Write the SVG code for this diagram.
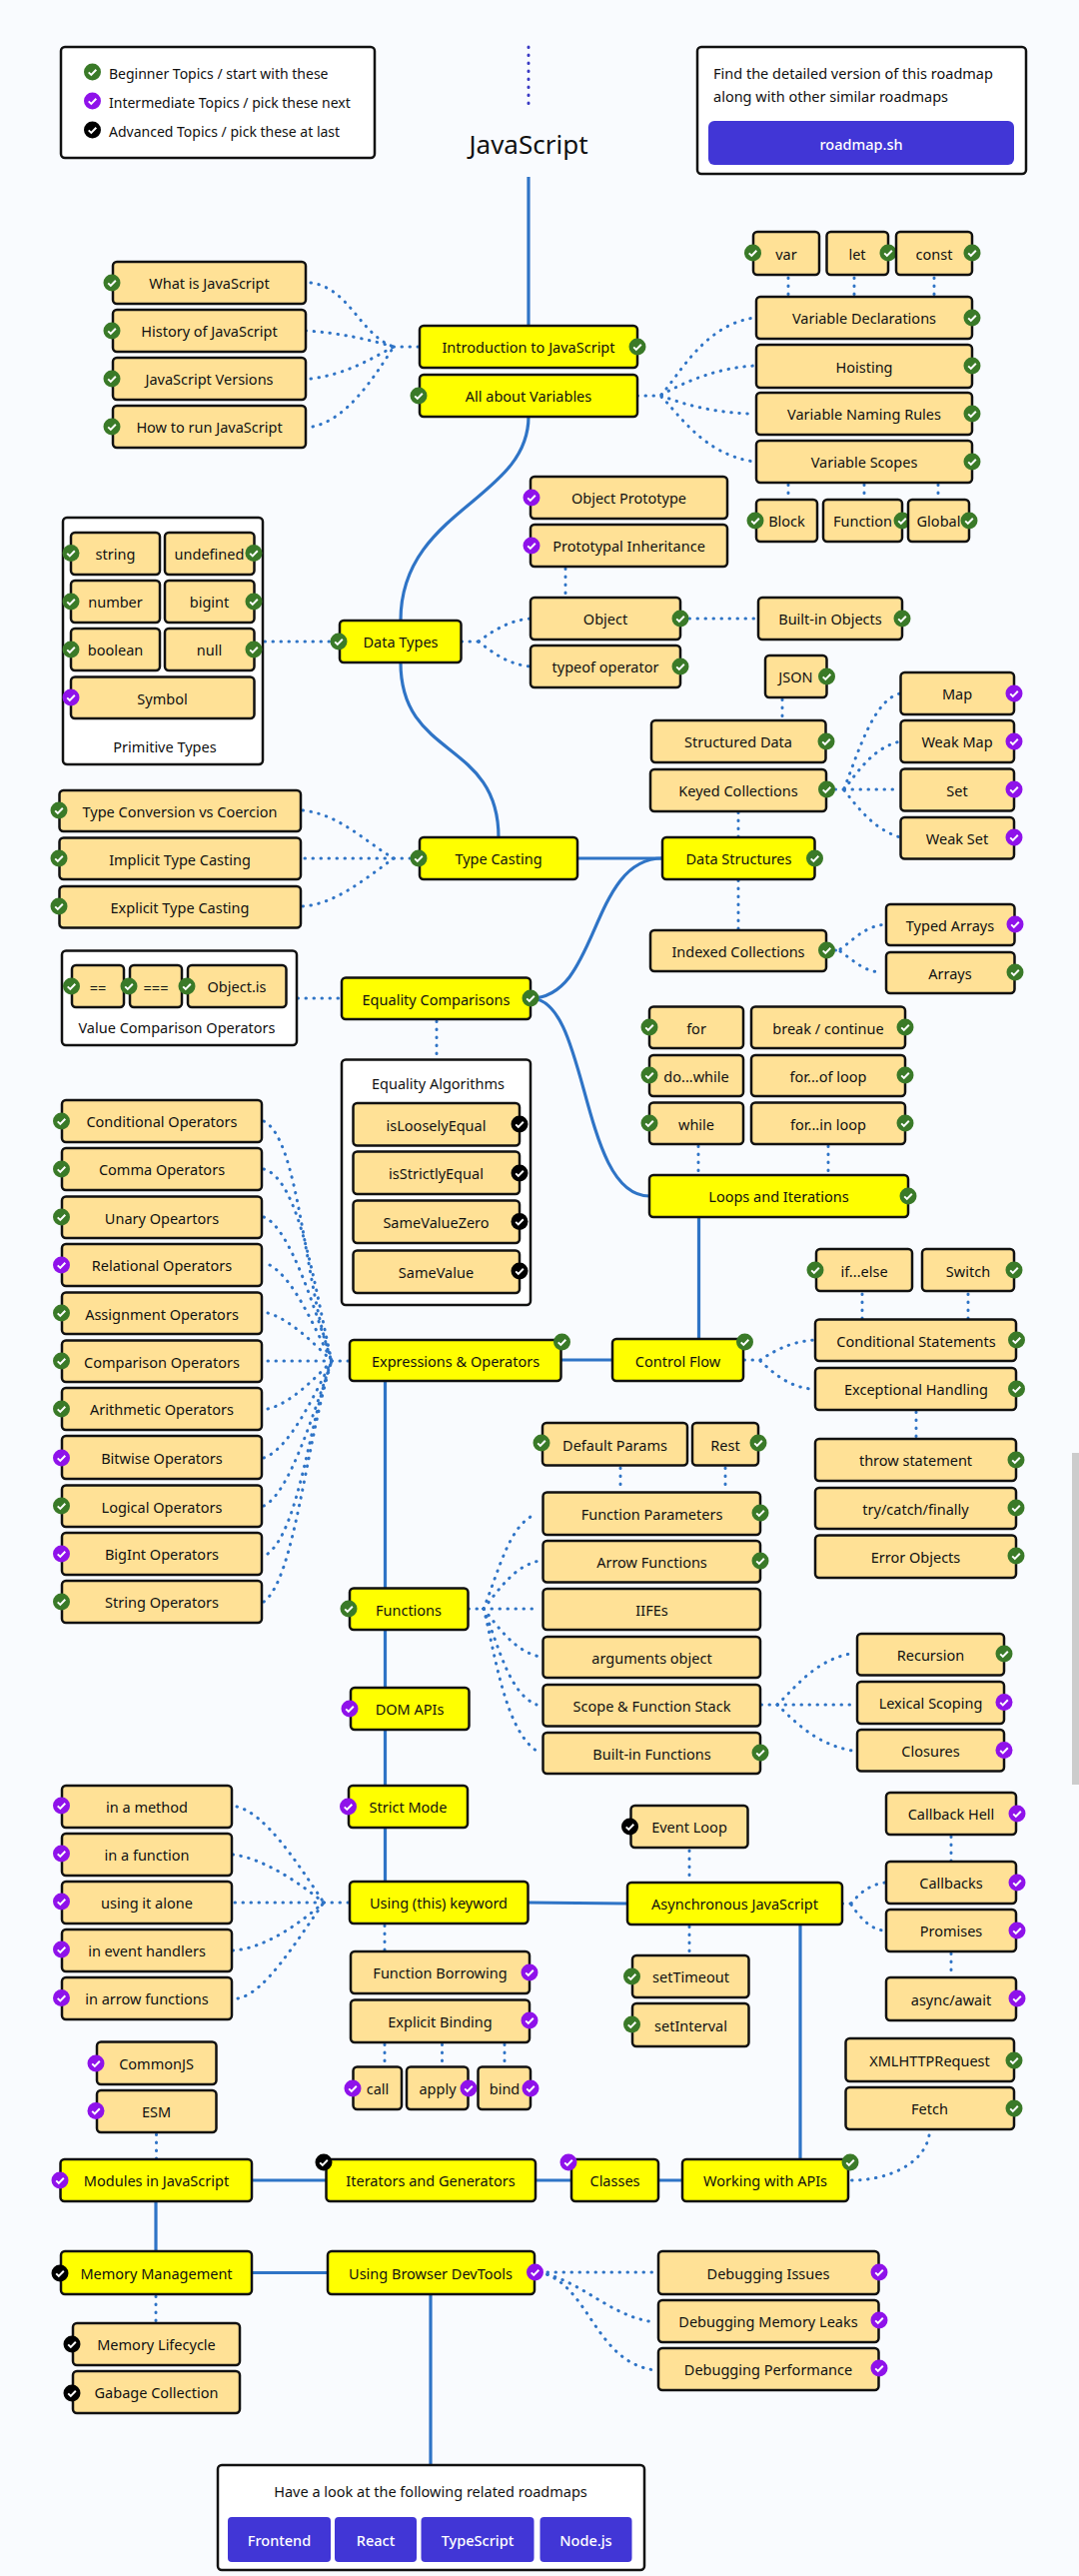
<svg xmlns="http://www.w3.org/2000/svg" width="1080" height="2578" viewBox="0 0 1080 2578">
<style>
text{font-family:"Noto Sans","Liberation Sans",sans-serif;font-size:14.5px;fill:#111;text-anchor:middle;dominant-baseline:central}
.s rect{fill:#ffe196;stroke:#111;stroke-width:2.5}
.p rect{fill:#ff0;stroke:#111;stroke-width:2.5}
.c>rect{fill:#fff;stroke:#111;stroke-width:2.5}
.b rect{fill:#4136d6;stroke:none}
.b text{fill:#fff;font-weight:500}
.lf text{text-anchor:start}
#legend text{font-size:14px}
#solid path{fill:none;stroke:#2f74c6;stroke-width:3.2}
#dots path{fill:none;stroke:#2f74c6;stroke-width:3;stroke-linecap:round;stroke-dasharray:0.5 7.5}
#dots path.top{stroke:#3a3ac4}
</style>
<defs>
<path id="k" d="M-3.8 .4L-1.2 2.9L3.8-2.2" fill="none" stroke="#fff" stroke-width="2"/>
<g id="g"><circle r="8.5" fill="#3a7a28"/><use href="#k"/></g>
<g id="v"><circle r="8.5" fill="#8f12ea"/><use href="#k"/></g>
<g id="a"><circle r="8.5" fill="#000"/><use href="#k"/></g>
</defs>
<rect width="1080" height="2578" fill="#f9fbfe"/>
<rect id="scrollbar" x="1073" y="1454" width="7" height="332" fill="#ccc"/>
<g id="solid">
<path d="M529 177V326"/>
<path d="M529 417C529 500 401 510 401 621"/>
<path d="M401 663C401 760 499 740 499 838"/>
<path d="M578 859H663"/>
<path d="M531 999C600 999 590 859 663 859"/>
<path d="M531 999C590 999 580 1197 650 1197"/>
<path d="M699.500 1218V1340"/>
<path d="M613 1361H562"/>
<path d="M385.500 1382V1883"/>
<path d="M528 1904L628 1905"/>
<path d="M801 1926V2161"/>
<path d="M683 2182H252"/>
<path d="M156 2203V2253"/>
<path d="M252 2274.500H328"/>
<path d="M431 2296V2467"/>
</g>
<g id="dots">
<path class="top" d="M529 47V108"/>
<path d="M394 347H420"/>
<path d="M311 283C350 288 360 335 394 347"/>
<path d="M306 331C340 333 370 340 394 347"/>
<path d="M311 379C345 375 370 360 394 347"/>
<path d="M313 427C345 420 370 385 394 347"/>
<path d="M638 396H662"/>
<path d="M662 395C680 375 705 325 755 318"/>
<path d="M662 395C690 380 720 368 755 366"/>
<path d="M662 396C690 407 720 413 750 414"/>
<path d="M662 397C680 415 705 455 755 462"/>
<path d="M789 278V297"/>
<path d="M855 278V297"/>
<path d="M935 278V297"/>
<path d="M789 485V500"/>
<path d="M865 485V500"/>
<path d="M939 485V500"/>
<path d="M265 642H335"/>
<path d="M462 642H479"/>
<path d="M479 642C495 630 510 621 531 619"/>
<path d="M479 642C495 655 510 665 531 667"/>
<path d="M690 619H757"/>
<path d="M566 569V598"/>
<path d="M783 700V720"/>
<path d="M739 813V838"/>
<path d="M739 881V931"/>
<path d="M836 790H845"/>
<path d="M845 789C860 750 875 700 901 694"/>
<path d="M845 790C860 770 875 748 901 742"/>
<path d="M845 790H901"/>
<path d="M845 791C860 810 875 830 901 838"/>
<path d="M836 951H841"/>
<path d="M841 950C855 940 865 927 887 925"/>
<path d="M841 952C855 962 865 972 881 973"/>
<path d="M699 1147V1176"/>
<path d="M829 1147V1176"/>
<path d="M437 1022V1060"/>
<path d="M298 999H342"/>
<path d="M394 859H419"/>
<path d="M303 811C340 815 365 842 394 859"/>
<path d="M305 859H394"/>
<path d="M303 907C335 905 365 880 394 859"/>
<path d="M332 1362H350"/>
<path d="M264 1122C300 1140 305 1290 332 1362"/>
<path d="M264 1170C300 1180 315 1290 332 1362"/>
<path d="M264 1218C290 1228 315 1310 332 1362"/>
<path d="M270 1266C295 1280 315 1330 332 1362"/>
<path d="M268 1314C290 1320 315 1345 332 1362"/>
<path d="M268 1362H332"/>
<path d="M268 1410C290 1405 315 1380 332 1362"/>
<path d="M264 1459C290 1450 315 1395 332 1362"/>
<path d="M264 1507C290 1495 315 1410 332 1362"/>
<path d="M268 1555C300 1530 310 1420 332 1362"/>
<path d="M264 1603C295 1580 305 1450 332 1362"/>
<path d="M469 1610H484"/>
<path d="M484 1610C500 1570 510 1525 537 1515"/>
<path d="M484 1610C500 1590 515 1567 540 1562"/>
<path d="M484 1610H540"/>
<path d="M484 1610C500 1630 515 1652 540 1658"/>
<path d="M484 1610C500 1650 510 1695 537 1706"/>
<path d="M484 1610C495 1650 505 1735 540 1754"/>
<path d="M621 1469V1493"/>
<path d="M726 1469V1493"/>
<path d="M762 1706H778"/>
<path d="M778 1706C795 1690 815 1662 851 1655"/>
<path d="M778 1706H852"/>
<path d="M778 1706C795 1722 815 1745 853 1752"/>
<path d="M863 1295V1320"/>
<path d="M969 1295V1320"/>
<path d="M917 1413V1440"/>
<path d="M745 1361H761"/>
<path d="M761 1361C775 1352 790 1343 815 1341"/>
<path d="M761 1362C775 1375 790 1388 812 1390"/>
<path d="M843 1905H852"/>
<path d="M852 1905C860 1895 870 1886 886 1884"/>
<path d="M852 1906C860 1918 870 1930 884 1932"/>
<path d="M952 1838V1863"/>
<path d="M952 1955V1979"/>
<path d="M690 1852V1884"/>
<path d="M690 1928V1957"/>
<path d="M930 2137C925 2165 890 2182 852 2182"/>
<path d="M324 1904H350"/>
<path d="M237 1808C265 1815 295 1860 324 1904"/>
<path d="M233 1856C265 1860 300 1885 324 1904"/>
<path d="M235 1904H324"/>
<path d="M233 1952C265 1950 300 1925 324 1904"/>
<path d="M238 2000C265 1995 295 1945 324 1904"/>
<path d="M385 1927V1953"/>
<path d="M385 2046V2068"/>
<path d="M442.500 2046V2068"/>
<path d="M505 2046V2068"/>
<path d="M156.500 2136V2161"/>
<path d="M156 2298V2325"/>
<path d="M540 2274H657"/>
<path d="M540 2274C585 2284 610 2318 655 2324"/>
<path d="M540 2274C590 2285 595 2365 656 2372"/>
</g>
<g id="legend" class="c lf"><rect x="61" y="47" width="314" height="111" rx="4"/>
<use href="#g" x="92.500" y="72"/><text x="109" y="73">Beginner Topics / start with these</text>
<use href="#v" x="92.500" y="101"/><text x="109" y="102">Intermediate Topics / pick these next</text>
<use href="#a" x="92.500" y="130"/><text x="109" y="131">Advanced Topics / pick these at last</text></g>
<text id="title" x="529" y="144" style="font-size:26px">JavaScript</text>
<g id="promo" class="c lf"><rect x="698" y="47" width="329" height="127" rx="4"/>
<text x="714" y="73">Find the detailed version of this roadmap</text>
<text x="714" y="96">along with other similar roadmaps</text></g>
<g id="promo-btn" class="b"><rect x="709" y="121" width="306" height="44" rx="6"/><text x="862" y="144">roadmap.sh</text></g>
<g id="card-primitive" class="c"><rect x="63" y="518" width="200" height="247" rx="4"/><text x="165" y="747">Primitive Types</text></g>
<g id="card-value" class="c"><rect x="62" y="951.500" width="235" height="94.500" rx="4"/><text x="177" y="1027.500">Value Comparison Operators</text></g>
<g id="card-equality" class="c"><rect x="342" y="1060.500" width="189" height="245.500" rx="4"/><text x="438.500" y="1084">Equality Algorithms</text></g>
<g id="card-related" class="c"><rect x="218" y="2467" width="427" height="105" rx="4"/><text x="431" y="2493">Have a look at the following related roadmaps</text></g>
<g id="rel-frontend" class="b"><rect x="228" y="2519" width="103" height="45" rx="4"/><text x="279.500" y="2542">Frontend</text></g>
<g id="rel-react" class="b"><rect x="335" y="2519" width="82" height="45" rx="4"/><text x="376" y="2542">React</text></g>
<g id="rel-ts" class="b"><rect x="421.500" y="2519" width="113" height="45" rx="4"/><text x="478" y="2542">TypeScript</text></g>
<g id="rel-node" class="b"><rect x="540.500" y="2519" width="92" height="45" rx="4"/><text x="586.500" y="2542">Node.js</text></g>

<g id="what-is" class="s"><rect x="113" y="262" width="193" height="42" rx="4"/><text x="209.500" y="283">What is JavaScript</text><use href="#g" x="112" y="283"/></g>
<g id="history" class="s"><rect x="113" y="310" width="193" height="42" rx="4"/><text x="209.500" y="331">History of JavaScript</text><use href="#g" x="112" y="331"/></g>
<g id="versions" class="s"><rect x="113" y="358" width="193" height="42" rx="4"/><text x="209.500" y="379">JavaScript Versions</text><use href="#g" x="112" y="379"/></g>
<g id="how-to-run" class="s"><rect x="113" y="406" width="193" height="42" rx="4"/><text x="209.500" y="427">How to run JavaScript</text><use href="#g" x="112" y="427"/></g>
<g id="intro" class="p"><rect x="420" y="326" width="218" height="42" rx="4"/><text x="529" y="347">Introduction to JavaScript</text><use href="#g" x="638" y="347"/></g>
<g id="variables" class="p"><rect x="420" y="375" width="218" height="42" rx="4"/><text x="529" y="396">All about Variables</text><use href="#g" x="419" y="396"/></g>
<g id="var" class="s"><rect x="754" y="232" width="66" height="43" rx="4"/><text x="787" y="253.500">var</text><use href="#g" x="753.500" y="253"/></g>
<g id="let" class="s"><rect x="827.500" y="232" width="61.500" height="43" rx="4"/><text x="858" y="253.500">let</text><use href="#g" x="889" y="253"/></g>
<g id="const" class="s"><rect x="897" y="232" width="76" height="43" rx="4"/><text x="935" y="253.500">const</text><use href="#g" x="973" y="253"/></g>
<g id="var-decl" class="s"><rect x="757" y="297" width="216" height="42" rx="4"/><text x="865" y="318">Variable Declarations</text><use href="#g" x="973" y="318"/></g>
<g id="hoisting" class="s"><rect x="757" y="345" width="216" height="43" rx="4"/><text x="865" y="366.500">Hoisting</text><use href="#g" x="973" y="366"/></g>
<g id="naming" class="s"><rect x="757" y="393" width="216" height="42" rx="4"/><text x="865" y="414">Variable Naming Rules</text><use href="#g" x="973" y="414"/></g>
<g id="scopes" class="s"><rect x="757" y="441" width="216" height="42" rx="4"/><text x="865" y="462">Variable Scopes</text><use href="#g" x="973" y="462"/></g>
<g id="block" class="s"><rect x="757" y="500" width="61" height="42" rx="4"/><text x="787.500" y="521">Block</text><use href="#g" x="756" y="521"/></g>
<g id="function-scope" class="s"><rect x="824" y="500" width="79" height="42" rx="4"/><text x="863.500" y="521">Function</text><use href="#g" x="903" y="521"/></g>
<g id="global" class="s"><rect x="909" y="500" width="61" height="42" rx="4"/><text x="939.500" y="521">Global</text><use href="#g" x="970" y="521"/></g>
<g id="obj-proto" class="s"><rect x="531" y="477" width="197" height="42" rx="4"/><text x="629.500" y="498">Object Prototype</text><use href="#v" x="532" y="498"/></g>
<g id="proto-inherit" class="s"><rect x="531" y="525" width="197" height="42" rx="4"/><text x="629.500" y="546">Prototypal Inheritance</text><use href="#v" x="532" y="546"/></g>
<g id="object" class="s"><rect x="531" y="598" width="150" height="42" rx="4"/><text x="606" y="619">Object</text><use href="#g" x="681" y="619"/></g>
<g id="typeof" class="s"><rect x="531" y="646" width="150" height="42" rx="4"/><text x="606" y="667">typeof operator</text><use href="#g" x="681" y="667"/></g>
<g id="builtin-objects" class="s"><rect x="759" y="598" width="144" height="42" rx="4"/><text x="831" y="619">Built-in Objects</text><use href="#g" x="903" y="619"/></g>
<g id="json" class="s"><rect x="766" y="656" width="61.500" height="42" rx="4"/><text x="796.500" y="677">JSON</text><use href="#g" x="827.500" y="677"/></g>
<g id="structured" class="s"><rect x="652" y="721" width="174.500" height="42" rx="4"/><text x="739" y="742">Structured Data</text><use href="#g" x="827" y="742"/></g>
<g id="keyed" class="s"><rect x="651" y="770" width="176" height="42" rx="4"/><text x="739" y="791">Keyed Collections</text><use href="#g" x="827.500" y="790"/></g>
<g id="data-structures" class="p"><rect x="663" y="838" width="152.500" height="42" rx="4"/><text x="739.500" y="859">Data Structures</text><use href="#g" x="815.500" y="859"/></g>
<g id="map" class="s"><rect x="901.500" y="673" width="113.500" height="42" rx="4"/><text x="958" y="694">Map</text><use href="#v" x="1015" y="694"/></g>
<g id="weak-map" class="s"><rect x="901.500" y="721" width="113.500" height="42" rx="4"/><text x="958" y="742">Weak Map</text><use href="#v" x="1015" y="742"/></g>
<g id="set" class="s"><rect x="901.500" y="769.500" width="113.500" height="42" rx="4"/><text x="958" y="790.500">Set</text><use href="#v" x="1015" y="790"/></g>
<g id="weak-set" class="s"><rect x="901.500" y="818" width="113.500" height="41.500" rx="4"/><text x="958" y="839">Weak Set</text><use href="#v" x="1015" y="838"/></g>
<g id="indexed" class="s"><rect x="651" y="931" width="176" height="41" rx="4"/><text x="739" y="951.500">Indexed Collections</text><use href="#g" x="827.500" y="951"/></g>
<g id="typed-arrays" class="s"><rect x="887" y="905" width="128.500" height="41" rx="4"/><text x="951" y="925.500">Typed Arrays</text><use href="#v" x="1016" y="925"/></g>
<g id="arrays" class="s"><rect x="887" y="953" width="128.500" height="41" rx="4"/><text x="951" y="973.500">Arrays</text><use href="#g" x="1016" y="973"/></g>
<g id="for" class="s"><rect x="650" y="1007.500" width="94" height="41.500" rx="4"/><text x="697" y="1028.500">for</text><use href="#g" x="650" y="1028"/></g>
<g id="break" class="s"><rect x="752" y="1007.500" width="154" height="41.500" rx="4"/><text x="829" y="1028.500">break / continue</text><use href="#g" x="906" y="1028"/></g>
<g id="do-while" class="s"><rect x="650" y="1056" width="94" height="41" rx="4"/><text x="697" y="1076.500">do...while</text><use href="#g" x="650" y="1076"/></g>
<g id="for-of" class="s"><rect x="752" y="1056" width="154" height="41" rx="4"/><text x="829" y="1076.500">for...of loop</text><use href="#g" x="906" y="1076"/></g>
<g id="while" class="s"><rect x="650" y="1103.500" width="94" height="41.500" rx="4"/><text x="697" y="1124.500">while</text><use href="#g" x="650" y="1124"/></g>
<g id="for-in" class="s"><rect x="752" y="1103.500" width="154" height="41.500" rx="4"/><text x="829" y="1124.500">for...in loop</text><use href="#g" x="906" y="1124"/></g>
<g id="loops" class="p"><rect x="650" y="1176" width="259" height="42" rx="4"/><text x="779.500" y="1197">Loops and Iterations</text><use href="#g" x="909" y="1197"/></g>
<g id="data-types" class="p"><rect x="340" y="621" width="121.500" height="42" rx="4"/><text x="401" y="642">Data Types</text><use href="#g" x="339" y="642"/></g>
<g id="string" class="s"><rect x="71" y="533" width="89" height="42" rx="4"/><text x="115.500" y="554">string</text><use href="#g" x="71" y="553.500"/></g>
<g id="undefined" class="s"><rect x="165" y="533" width="89.500" height="42" rx="4"/><text x="209.500" y="554">undefined</text><use href="#g" x="254" y="553.500"/></g>
<g id="number" class="s"><rect x="71" y="581" width="89" height="42" rx="4"/><text x="115.500" y="602">number</text><use href="#g" x="71" y="602"/></g>
<g id="bigint" class="s"><rect x="165" y="581" width="89.500" height="42" rx="4"/><text x="209.500" y="602">bigint</text><use href="#g" x="254" y="602"/></g>
<g id="boolean" class="s"><rect x="71" y="629" width="89" height="42" rx="4"/><text x="115.500" y="650">boolean</text><use href="#g" x="71" y="650"/></g>
<g id="null" class="s"><rect x="165" y="629" width="89.500" height="42" rx="4"/><text x="209.500" y="650">null</text><use href="#g" x="254" y="650"/></g>
<g id="symbol" class="s"><rect x="71" y="677.500" width="183.500" height="41.500" rx="4"/><text x="162.500" y="698.500">Symbol</text><use href="#v" x="71" y="698"/></g>
<g id="conversion" class="s"><rect x="59.500" y="791" width="241.500" height="41" rx="4"/><text x="180" y="811.500">Type Conversion vs Coercion</text><use href="#g" x="59" y="811"/></g>
<g id="implicit" class="s"><rect x="59.500" y="838.500" width="241.500" height="41.500" rx="4"/><text x="180" y="859.500">Implicit Type Casting</text><use href="#g" x="59" y="859"/></g>
<g id="explicit" class="s"><rect x="59.500" y="887" width="241.500" height="41.500" rx="4"/><text x="180" y="908">Explicit Type Casting</text><use href="#g" x="59" y="907"/></g>
<g id="type-casting" class="p"><rect x="420" y="838" width="158" height="42" rx="4"/><text x="499" y="859">Type Casting</text><use href="#g" x="419" y="859"/></g>
<g id="eq2" class="s"><rect x="72" y="966" width="52" height="42" rx="4"/><text x="98" y="988">==</text><use href="#g" x="71.500" y="987"/></g>
<g id="eq3" class="s"><rect x="130" y="966" width="52" height="42" rx="4"/><text x="156" y="988">===</text><use href="#g" x="129" y="987"/></g>
<g id="object-is" class="s"><rect x="188" y="966" width="98.500" height="42" rx="4"/><text x="237" y="987">Object.is</text><use href="#g" x="187" y="987"/></g>
<g id="equality" class="p"><rect x="342" y="978.500" width="189" height="41.500" rx="4"/><text x="436.500" y="999.500">Equality Comparisons</text><use href="#g" x="531" y="999"/></g>
<g id="loosely" class="s"><rect x="353.500" y="1104" width="166.500" height="42.500" rx="4"/><text x="436.500" y="1125.500">isLooselyEqual</text><use href="#a" x="520" y="1125"/></g>
<g id="strictly" class="s"><rect x="353.500" y="1152.500" width="166.500" height="42.500" rx="4"/><text x="436.500" y="1174">isStrictlyEqual</text><use href="#a" x="520" y="1174"/></g>
<g id="svz" class="s"><rect x="353.500" y="1201.500" width="166.500" height="42.500" rx="4"/><text x="436.500" y="1223">SameValueZero</text><use href="#a" x="520" y="1222.500"/></g>
<g id="sv" class="s"><rect x="353.500" y="1251.500" width="166.500" height="42.500" rx="4"/><text x="436.500" y="1273">SameValue</text><use href="#a" x="520" y="1272"/></g>
<g id="op-conditional" class="s"><rect x="62" y="1101" width="200" height="42" rx="4"/><text x="162" y="1122">Conditional Operators</text><use href="#g" x="61.500" y="1122"/></g>
<g id="op-comma" class="s"><rect x="62" y="1149" width="200" height="42" rx="4"/><text x="162" y="1170">Comma Operators</text><use href="#g" x="61.500" y="1170"/></g>
<g id="op-unary" class="s"><rect x="62" y="1197.500" width="200" height="41.500" rx="4"/><text x="162" y="1218.500">Unary Opeartors</text><use href="#g" x="61.500" y="1218"/></g>
<g id="op-relational" class="s"><rect x="62" y="1245" width="200" height="42" rx="4"/><text x="162" y="1266">Relational Operators</text><use href="#v" x="61.500" y="1266"/></g>
<g id="op-assignment" class="s"><rect x="62" y="1293.500" width="200" height="41.500" rx="4"/><text x="162" y="1314.500">Assignment Operators</text><use href="#g" x="61.500" y="1314"/></g>
<g id="op-comparison" class="s"><rect x="62" y="1341.500" width="200" height="41.500" rx="4"/><text x="162" y="1362.500">Comparison Operators</text><use href="#g" x="61.500" y="1362"/></g>
<g id="op-arithmetic" class="s"><rect x="62" y="1389" width="200" height="42" rx="4"/><text x="162" y="1410">Arithmetic Operators</text><use href="#g" x="61.500" y="1410"/></g>
<g id="op-bitwise" class="s"><rect x="62" y="1437" width="200" height="43" rx="4"/><text x="162" y="1459">Bitwise Operators</text><use href="#v" x="61.500" y="1459"/></g>
<g id="op-logical" class="s"><rect x="62" y="1486.500" width="200" height="41.500" rx="4"/><text x="162" y="1507.500">Logical Operators</text><use href="#g" x="61.500" y="1507"/></g>
<g id="op-bigint" class="s"><rect x="62" y="1534" width="200" height="42" rx="4"/><text x="162" y="1555">BigInt Operators</text><use href="#v" x="61.500" y="1555"/></g>
<g id="op-string" class="s"><rect x="62" y="1582" width="200" height="42" rx="4"/><text x="162" y="1603">String Operators</text><use href="#g" x="61.500" y="1603"/></g>
<g id="expressions" class="p"><rect x="350" y="1341" width="211.500" height="41" rx="4"/><text x="456" y="1362">Expressions &amp; Operators</text><use href="#g" x="562.500" y="1343"/></g>
<g id="control-flow" class="p"><rect x="613" y="1340" width="131" height="42" rx="4"/><text x="678.500" y="1361.500">Control Flow</text><use href="#g" x="745.500" y="1343"/></g>
<g id="if-else" class="s"><rect x="817" y="1250" width="96" height="42" rx="4"/><text x="865" y="1271.500">if...else</text><use href="#g" x="816" y="1271"/></g>
<g id="switch" class="s"><rect x="923" y="1250" width="92" height="42" rx="4"/><text x="969" y="1271.500">Switch</text><use href="#g" x="1015" y="1271"/></g>
<g id="cond-stmt" class="s"><rect x="816" y="1320.500" width="201" height="41.500" rx="4"/><text x="917" y="1341.500">Conditional Statements</text><use href="#g" x="1017.500" y="1341"/></g>
<g id="exceptional" class="s"><rect x="816" y="1369" width="201" height="42" rx="4"/><text x="917" y="1390">Exceptional Handling</text><use href="#g" x="1017.500" y="1390"/></g>
<g id="throw" class="s"><rect x="816" y="1440" width="201" height="42" rx="4"/><text x="916.500" y="1461">throw statement</text><use href="#g" x="1017" y="1461"/></g>
<g id="try-catch" class="s"><rect x="816" y="1489" width="201" height="41" rx="4"/><text x="916.500" y="1509.500">try/catch/finally</text><use href="#g" x="1017" y="1509"/></g>
<g id="error-objects" class="s"><rect x="816" y="1536.500" width="201" height="42.500" rx="4"/><text x="916.500" y="1558">Error Objects</text><use href="#g" x="1017" y="1557"/></g>
<g id="default-params" class="s"><rect x="543" y="1424" width="145" height="42.500" rx="4"/><text x="615.500" y="1445.500">Default Params</text><use href="#g" x="542" y="1444"/></g>
<g id="rest" class="s"><rect x="693" y="1424" width="66" height="42.500" rx="4"/><text x="726" y="1445.500">Rest</text><use href="#g" x="759" y="1444"/></g>
<g id="fn-params" class="s"><rect x="543.500" y="1493.500" width="217.500" height="42.500" rx="4"/><text x="652.500" y="1515">Function Parameters</text><use href="#g" x="761" y="1514"/></g>
<g id="arrow-fn" class="s"><rect x="543.500" y="1542" width="217.500" height="41.500" rx="4"/><text x="652.500" y="1563">Arrow Functions</text><use href="#g" x="761" y="1562"/></g>
<g id="iifes" class="s"><rect x="543.500" y="1590" width="217.500" height="41" rx="4"/><text x="652.500" y="1610.500">IIFEs</text></g>
<g id="arguments" class="s"><rect x="543.500" y="1638" width="217.500" height="41" rx="4"/><text x="652.500" y="1658.500">arguments object</text></g>
<g id="scope-stack" class="s"><rect x="543.500" y="1686" width="217.500" height="41.500" rx="4"/><text x="652.500" y="1707">Scope &amp; Function Stack</text></g>
<g id="builtin-fn" class="s"><rect x="543.500" y="1734" width="217.500" height="41" rx="4"/><text x="652.500" y="1754.500">Built-in Functions</text><use href="#g" x="761" y="1754"/></g>
<g id="recursion" class="s"><rect x="858" y="1635" width="147" height="41.500" rx="4"/><text x="931.500" y="1656">Recursion</text><use href="#g" x="1005" y="1655"/></g>
<g id="lexical" class="s"><rect x="858" y="1683" width="147" height="42" rx="4"/><text x="931.500" y="1704">Lexical Scoping</text><use href="#v" x="1005" y="1703.500"/></g>
<g id="closures" class="s"><rect x="858" y="1731" width="147" height="41.500" rx="4"/><text x="931.500" y="1752">Closures</text><use href="#v" x="1005" y="1751.500"/></g>
<g id="functions" class="p"><rect x="350" y="1589.500" width="118.500" height="41.500" rx="4"/><text x="409" y="1610.500">Functions</text><use href="#g" x="349" y="1610"/></g>
<g id="dom-apis" class="p"><rect x="351" y="1689" width="118.500" height="42" rx="4"/><text x="410" y="1710">DOM APIs</text><use href="#v" x="350" y="1710"/></g>
<g id="strict-mode" class="p"><rect x="349" y="1787" width="119" height="42" rx="4"/><text x="408.500" y="1808">Strict Mode</text><use href="#v" x="348.500" y="1808"/></g>
<g id="using-this" class="p"><rect x="350" y="1883" width="178.500" height="42" rx="4"/><text x="439" y="1904">Using (this) keyword</text></g>
<g id="this-method" class="s"><rect x="62" y="1787" width="170" height="42" rx="4"/><text x="147" y="1808">in a method</text><use href="#v" x="61.500" y="1807"/></g>
<g id="this-function" class="s"><rect x="62" y="1835" width="170" height="42" rx="4"/><text x="147" y="1856">in a function</text><use href="#v" x="61.500" y="1855"/></g>
<g id="this-alone" class="s"><rect x="62" y="1883" width="170" height="42" rx="4"/><text x="147" y="1904">using it alone</text><use href="#v" x="61.500" y="1903"/></g>
<g id="this-event" class="s"><rect x="62" y="1931" width="170" height="42" rx="4"/><text x="147" y="1952">in event handlers</text><use href="#v" x="61.500" y="1951"/></g>
<g id="this-arrow" class="s"><rect x="62" y="1979" width="170" height="42" rx="4"/><text x="147" y="2000">in arrow functions</text><use href="#v" x="61.500" y="1999.500"/></g>
<g id="fn-borrowing" class="s"><rect x="351" y="1953" width="179" height="42" rx="4"/><text x="440.500" y="1974">Function Borrowing</text><use href="#v" x="530" y="1974"/></g>
<g id="explicit-binding" class="s"><rect x="351" y="2001.500" width="179" height="42.500" rx="4"/><text x="440.500" y="2023">Explicit Binding</text><use href="#v" x="530" y="2022"/></g>
<g id="call" class="s"><rect x="353.500" y="2068.500" width="48.500" height="42.500" rx="4"/><text x="378" y="2090">call</text><use href="#v" x="353" y="2090"/></g>
<g id="apply" class="s"><rect x="407" y="2068.500" width="61.500" height="42.500" rx="4"/><text x="438" y="2090">apply</text><use href="#v" x="469" y="2090"/></g>
<g id="bind" class="s"><rect x="478.500" y="2068.500" width="52.500" height="42.500" rx="4"/><text x="505" y="2090">bind</text><use href="#v" x="531" y="2090"/></g>
<g id="async" class="p"><rect x="628" y="1884" width="215" height="42" rx="4"/><text x="735.500" y="1905">Asynchronous JavaScript</text></g>
<g id="event-loop" class="s"><rect x="631.500" y="1807" width="117" height="42" rx="4"/><text x="690" y="1828">Event Loop</text><use href="#a" x="630.500" y="1828"/></g>
<g id="set-timeout" class="s"><rect x="633" y="1957" width="116.500" height="42" rx="4"/><text x="691.500" y="1978">setTimeout</text><use href="#g" x="632.500" y="1978"/></g>
<g id="set-interval" class="s"><rect x="633" y="2005" width="116.500" height="43" rx="4"/><text x="691.500" y="2026.500">setInterval</text><use href="#g" x="632.500" y="2026"/></g>
<g id="callback-hell" class="s"><rect x="887" y="1794" width="130" height="42" rx="4"/><text x="952" y="1815">Callback Hell</text><use href="#v" x="1018" y="1815"/></g>
<g id="callbacks" class="s"><rect x="887" y="1863" width="130" height="42" rx="4"/><text x="952" y="1884">Callbacks</text><use href="#v" x="1018" y="1884"/></g>
<g id="promises" class="s"><rect x="887" y="1911" width="130" height="42" rx="4"/><text x="952" y="1932">Promises</text><use href="#v" x="1018" y="1932"/></g>
<g id="async-await" class="s"><rect x="887" y="1979" width="130" height="43" rx="4"/><text x="952" y="2000.500">async/await</text><use href="#v" x="1018" y="2000"/></g>
<g id="xhr" class="s"><rect x="846.500" y="2040" width="168.500" height="43" rx="4"/><text x="930.500" y="2062">XMLHTTPRequest</text><use href="#g" x="1015" y="2062"/></g>
<g id="fetch" class="s"><rect x="846.500" y="2089" width="168.500" height="42" rx="4"/><text x="930.500" y="2110">Fetch</text><use href="#g" x="1015" y="2110"/></g>
<g id="commonjs" class="s"><rect x="97" y="2043.500" width="119.500" height="42.500" rx="4"/><text x="156.500" y="2065">CommonJS</text><use href="#v" x="96" y="2065"/></g>
<g id="esm" class="s"><rect x="97" y="2092" width="119.500" height="42" rx="4"/><text x="156.500" y="2113">ESM</text><use href="#v" x="96" y="2112.500"/></g>
<g id="modules" class="p"><rect x="60.500" y="2161" width="191.500" height="42" rx="4"/><text x="156.500" y="2182">Modules in JavaScript</text><use href="#v" x="60" y="2182"/></g>
<g id="iterators" class="p"><rect x="326.500" y="2161" width="209.500" height="42" rx="4"/><text x="431" y="2182">Iterators and Generators</text><use href="#a" x="324" y="2164"/></g>
<g id="classes" class="p"><rect x="572" y="2161" width="87" height="42" rx="4"/><text x="615.500" y="2182">Classes</text><use href="#v" x="569" y="2164"/></g>
<g id="apis" class="p"><rect x="683" y="2161" width="166" height="42" rx="4"/><text x="766" y="2182">Working with APIs</text><use href="#g" x="851" y="2164"/></g>
<g id="memory" class="p"><rect x="61" y="2253" width="191" height="43" rx="4"/><text x="156.500" y="2274.500">Memory Management</text><use href="#a" x="60" y="2275"/></g>
<g id="devtools" class="p"><rect x="328" y="2253" width="207" height="43" rx="4"/><text x="431" y="2274.500">Using Browser DevTools</text><use href="#v" x="535.500" y="2274"/></g>
<g id="mem-lifecycle" class="s"><rect x="73" y="2325" width="167" height="42" rx="4"/><text x="156.500" y="2346">Memory Lifecycle</text><use href="#a" x="72" y="2346"/></g>
<g id="gc" class="s"><rect x="73" y="2373" width="167" height="42" rx="4"/><text x="156.500" y="2394">Gabage Collection</text><use href="#a" x="72" y="2395"/></g>
<g id="debug-issues" class="s"><rect x="659" y="2253" width="220.500" height="43" rx="4"/><text x="769" y="2275">Debugging Issues</text><use href="#v" x="880" y="2274"/></g>
<g id="debug-memory" class="s"><rect x="659" y="2302" width="220.500" height="42" rx="4"/><text x="769" y="2323">Debugging Memory Leaks</text><use href="#v" x="880" y="2322"/></g>
<g id="debug-perf" class="s"><rect x="659" y="2350" width="220.500" height="42" rx="4"/><text x="769" y="2371">Debugging Performance</text><use href="#v" x="880" y="2370"/></g>
</svg>
